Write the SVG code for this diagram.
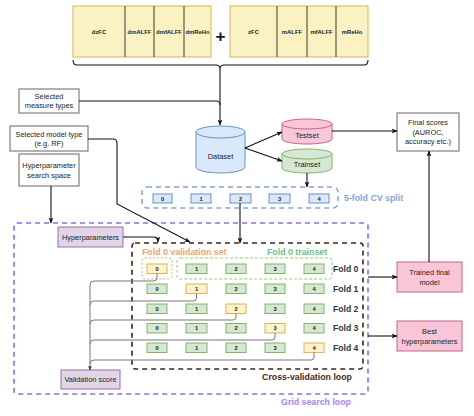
<svg xmlns="http://www.w3.org/2000/svg" width="474" height="416" viewBox="0 0 474 416">
<defs>
<marker id="arr" viewBox="0 0 10 10" refX="9" refY="5" markerWidth="6" markerHeight="6" orient="auto" markerUnits="userSpaceOnUse"><path d="M0,1 L10,5 L0,9 L2.5,5 Z" fill="#111"/></marker>
<marker id="arrg" viewBox="0 0 10 10" refX="9" refY="5" markerWidth="5" markerHeight="5" orient="auto" markerUnits="userSpaceOnUse"><path d="M0,1 L10,5 L0,9 L2.5,5 Z" fill="#333"/></marker>
<style>
text{font-family:"Liberation Sans",Arial,sans-serif;fill:#222;text-anchor:middle;dominant-baseline:central}
.feat{fill:#fbf2c4;stroke:#d6b656;stroke-width:1}
.div{stroke:#3a3a2a;stroke-width:1}
.ft{font-size:5.9px;font-weight:bold}
.gbox{fill:#fff;stroke:#666;stroke-width:1}
.bt{font-size:7.4px}
.blue{fill:#dae8fc;stroke:#6c8ebf;stroke-width:1}
.green{fill:#d5e8d4;stroke:#82b366;stroke-width:1}
.yel{fill:#fff2cc;stroke:#d6b656;stroke-width:1}
.pink{fill:#f9c6d8;stroke:#c2668a;stroke-width:1}
.purp{fill:#e1d5e7;stroke:#9673a6;stroke-width:1}
.ct{font-size:5.8px;font-weight:bold}
.ln{fill:none;stroke:#111;stroke-width:1.1}
.gl{fill:none;stroke:#777;stroke-width:1}
.lbl{font-size:8.8px;font-weight:bold}
.fold{font-size:8.6px;font-weight:bold;fill:#333;text-anchor:start}
</style>
</defs>
<rect width="474" height="416" fill="#fff"/>

<g id="features-left">
<rect class="feat" x="73" y="6" width="138" height="51"/>
<line class="div" x1="125" y1="6" x2="125" y2="57"/>
<line class="div" x1="154" y1="6" x2="154" y2="57"/>
<line class="div" x1="184" y1="6" x2="184" y2="57"/>
<text class="ft" x="99" y="32">dzFC</text>
<text class="ft" x="139.5" y="32">dmALFF</text>
<text class="ft" x="169" y="32">dmfALFF</text>
<text class="ft" x="197.5" y="32">dmReHo</text>
</g>
<g id="plus"><text x="220.5" y="36" style="font-size:17px;font-weight:bold;fill:#111">+</text></g>
<g id="features-right">
<rect class="feat" x="230" y="6" width="138" height="51"/>
<line class="div" x1="277" y1="6" x2="277" y2="57"/>
<line class="div" x1="307" y1="6" x2="307" y2="57"/>
<line class="div" x1="336" y1="6" x2="336" y2="57"/>
<text class="ft" x="253.5" y="32">zFC</text>
<text class="ft" x="292" y="32">mALFF</text>
<text class="ft" x="321.5" y="32">mfALFF</text>
<text class="ft" x="352" y="32">mReHo</text>
</g>

<g id="measure-types"><rect class="gbox" x="19" y="89" width="60" height="24"/><text class="bt" x="49" y="96.5">Selected</text><text class="bt" x="49" y="105.5">measure types</text></g>
<g id="model-type"><rect class="gbox" x="10" y="126" width="78" height="25"/><text class="bt" x="49" y="134">Selected model type</text><text class="bt" x="49" y="143">(e.g. RF)</text></g>
<g id="search-space"><rect class="gbox" x="19" y="154" width="60" height="32"/><text class="bt" x="49" y="165">Hyperparameter</text><text class="bt" x="49" y="175">search space</text></g>

<g id="dataset"><path class="blue" d="M196,132 V167 A24.5,6 0 0 0 245,167 V132 A24.5,6 0 0 0 196,132 Z"/><path fill="none" stroke="#6c8ebf" d="M196,132 A24.5,6 0 0 0 245,132"/><text class="bt" x="220.5" y="156">Dataset</text></g>
<g id="testset"><path class="pink" d="M282,124 V139 A25,5 0 0 0 332,139 V124 A25,5 0 0 0 282,124 Z"/><path fill="none" stroke="#c2668a" d="M282,124 A25,5 0 0 0 332,124"/><text class="bt" x="307" y="135">Testset</text></g>
<g id="trainset"><path class="green" d="M282,154 V168 A25,5 0 0 0 332,168 V154 A25,5 0 0 0 282,154 Z"/><path fill="none" stroke="#82b366" d="M282,154 A25,5 0 0 0 332,154"/><text class="bt" x="307" y="164">Trainset</text></g>

<g id="final-scores"><rect class="gbox" x="397" y="113" width="62" height="38"/><text class="bt" x="428" y="122.5">Final scores</text><text class="bt" x="428" y="132">(AUROC,</text><text class="bt" x="428" y="141.5">accuracy etc.)</text></g>

<g id="cv-split">
<rect x="142" y="187" width="196" height="21" rx="5" fill="none" stroke="#7ea6e0" stroke-width="1.6" stroke-dasharray="5,4"/>
<rect class="blue" x="153" y="194" width="19" height="9"/><text class="ct" x="162.5" y="198.5">0</text>
<rect class="blue" x="191" y="194" width="20" height="9"/><text class="ct" x="201" y="198.5">1</text>
<rect class="blue" x="230" y="194" width="21" height="9"/><text class="ct" x="240.5" y="198.5">2</text>
<rect class="blue" x="269" y="194" width="21" height="9"/><text class="ct" x="279.5" y="198.5">3</text>
<rect class="blue" x="309" y="194" width="20" height="9"/><text class="ct" x="319" y="198.5">4</text>
<text class="lbl" x="344" y="198" style="fill:#7ea6e0;text-anchor:start">5-fold CV split</text>
</g>

<g id="grid-search-loop">
<rect x="14" y="223" width="354" height="171" rx="3" fill="none" stroke="#8b6cf0" stroke-width="1.6" stroke-dasharray="5,4"/>
<text class="lbl" x="316" y="402" style="fill:#a386f5">Grid search loop</text>
</g>
<g id="cv-loop">
<rect x="132" y="243" width="231" height="126" rx="3" fill="none" stroke="#3d2617" stroke-width="1.6" stroke-dasharray="5,4"/>
<text class="lbl" x="307" y="377" style="fill:#4a2c18">Cross-validation loop</text>
</g>

<g id="hyperparameters"><rect class="purp" x="58" y="227" width="65" height="20"/><text class="bt" x="90.5" y="237">Hyperparameters</text></g>
<g id="validation-score"><rect class="purp" x="61" y="370" width="59" height="19"/><text class="bt" x="90.5" y="379.5">Validation score</text></g>
<g id="trained-model"><rect class="pink" x="397" y="262" width="65" height="30"/><text class="bt" x="429.5" y="272">Trained final</text><text class="bt" x="429.5" y="282">model</text></g>
<g id="best-hyper"><rect class="pink" x="397" y="321" width="65" height="30"/><text class="bt" x="429.5" y="331">Best</text><text class="bt" x="429.5" y="341">hyperparameters</text></g>

<g id="fold-grid">
<rect x="142" y="258" width="30" height="21" rx="3" fill="none" stroke="#d6b656" stroke-dasharray="2,2"/>
<rect x="177" y="258" width="155" height="21" rx="3" fill="none" stroke="#97d077" stroke-dasharray="3,2"/>
<text class="lbl" x="142" y="252" style="fill:#f5a56b;text-anchor:start">Fold 0 validation set</text>
<text class="lbl" x="267" y="252" style="fill:#67c38e;text-anchor:start">Fold 0 trainset</text>

<rect class="yel" x="147" y="264" width="20" height="9.5"/><text class="ct" x="157" y="268.8">0</text>
<rect class="green" x="186" y="264" width="21" height="9.5"/><text class="ct" x="196.5" y="268.8">1</text>
<rect class="green" x="226" y="264" width="20" height="9.5"/><text class="ct" x="236" y="268.8">2</text>
<rect class="green" x="265" y="264" width="20" height="9.5"/><text class="ct" x="275" y="268.8">3</text>
<rect class="green" x="304" y="264" width="20" height="9.5"/><text class="ct" x="314" y="268.8">4</text>

<rect class="green" x="147" y="284" width="20" height="9.5"/><text class="ct" x="157" y="288.8">0</text>
<rect class="yel" x="186" y="284" width="21" height="9.5"/><text class="ct" x="196.5" y="288.8">1</text>
<rect class="green" x="226" y="284" width="20" height="9.5"/><text class="ct" x="236" y="288.8">2</text>
<rect class="green" x="265" y="284" width="20" height="9.5"/><text class="ct" x="275" y="288.8">3</text>
<rect class="green" x="304" y="284" width="20" height="9.5"/><text class="ct" x="314" y="288.8">4</text>

<rect class="green" x="147" y="304" width="20" height="9.5"/><text class="ct" x="157" y="308.8">0</text>
<rect class="green" x="186" y="304" width="21" height="9.5"/><text class="ct" x="196.5" y="308.8">1</text>
<rect class="yel" x="226" y="304" width="20" height="9.5"/><text class="ct" x="236" y="308.8">2</text>
<rect class="green" x="265" y="304" width="20" height="9.5"/><text class="ct" x="275" y="308.8">3</text>
<rect class="green" x="304" y="304" width="20" height="9.5"/><text class="ct" x="314" y="308.8">4</text>

<rect class="green" x="147" y="323.5" width="20" height="9.5"/><text class="ct" x="157" y="328.3">0</text>
<rect class="green" x="186" y="323.5" width="21" height="9.5"/><text class="ct" x="196.5" y="328.3">1</text>
<rect class="green" x="226" y="323.5" width="20" height="9.5"/><text class="ct" x="236" y="328.3">2</text>
<rect class="yel" x="265" y="323.5" width="20" height="9.5"/><text class="ct" x="275" y="328.3">3</text>
<rect class="green" x="304" y="323.5" width="20" height="9.5"/><text class="ct" x="314" y="328.3">4</text>

<rect class="green" x="147" y="343" width="20" height="9.5"/><text class="ct" x="157" y="347.8">0</text>
<rect class="green" x="186" y="343" width="21" height="9.5"/><text class="ct" x="196.5" y="347.8">1</text>
<rect class="green" x="226" y="343" width="20" height="9.5"/><text class="ct" x="236" y="347.8">2</text>
<rect class="green" x="265" y="343" width="20" height="9.5"/><text class="ct" x="275" y="347.8">3</text>
<rect class="yel" x="304" y="343" width="20" height="9.5"/><text class="ct" x="314" y="347.8">4</text>

<text class="fold" x="333" y="269">Fold 0</text>
<text class="fold" x="333" y="289">Fold 1</text>
<text class="fold" x="333" y="308.5">Fold 2</text>
<text class="fold" x="333" y="328">Fold 3</text>
<text class="fold" x="333" y="348">Fold 4</text>
</g>

<g id="connectors">
<path class="ln" d="M73,60 Q73,65 77,65 H216 Q220,65 220,69 Q220,65 224,65 H364 Q368,65 368,60"/>
<path class="ln" d="M220,69 V125" marker-end="url(#arr)"/>
<path class="ln" d="M79,101 H216 Q220,101 220,105"/>
<path class="ln" d="M245,148 L282,132" marker-end="url(#arr)"/>
<path class="ln" d="M245,148 L282,161" marker-end="url(#arr)"/>
<path class="ln" d="M332,131 H397" marker-end="url(#arr)"/>
<path class="ln" d="M307,173 V187" marker-end="url(#arr)"/>
<path class="ln" d="M88,139 H113 Q117,139 117,143 V204 L190,242" marker-end="url(#arr)"/>
<path class="ln" d="M51,186 V223" marker-end="url(#arr)"/>
<path class="ln" d="M123,237 H153 Q158,237 158,242" marker-end="url(#arr)"/>
<path class="ln" d="M240,203 V243" marker-end="url(#arr)"/>
<path class="ln" d="M429,262 V151" marker-end="url(#arr)"/>
<path class="ln" d="M368,277 H397" marker-end="url(#arr)"/>
<path class="ln" d="M368,336 H397" marker-end="url(#arr)"/>
<path class="gl" d="M157,273.5 V278 Q157,281 154,281 H94 Q90,281 90,285 V370" marker-end="url(#arrg)"/>
<path class="gl" d="M196.5,293.5 V298 Q196.5,301 193.5,301 H94 Q90,301 90,305"/>
<path class="gl" d="M236,313.5 V317 Q236,320 233,320 H94 Q90,320 90,324"/>
<path class="gl" d="M275,333 V337 Q275,340 272,340 H94 Q90,340 90,344"/>
<path class="gl" d="M314,352.5 V357 Q314,360 311,360 H94 Q90,360 90,364"/>
</g>
</svg>
